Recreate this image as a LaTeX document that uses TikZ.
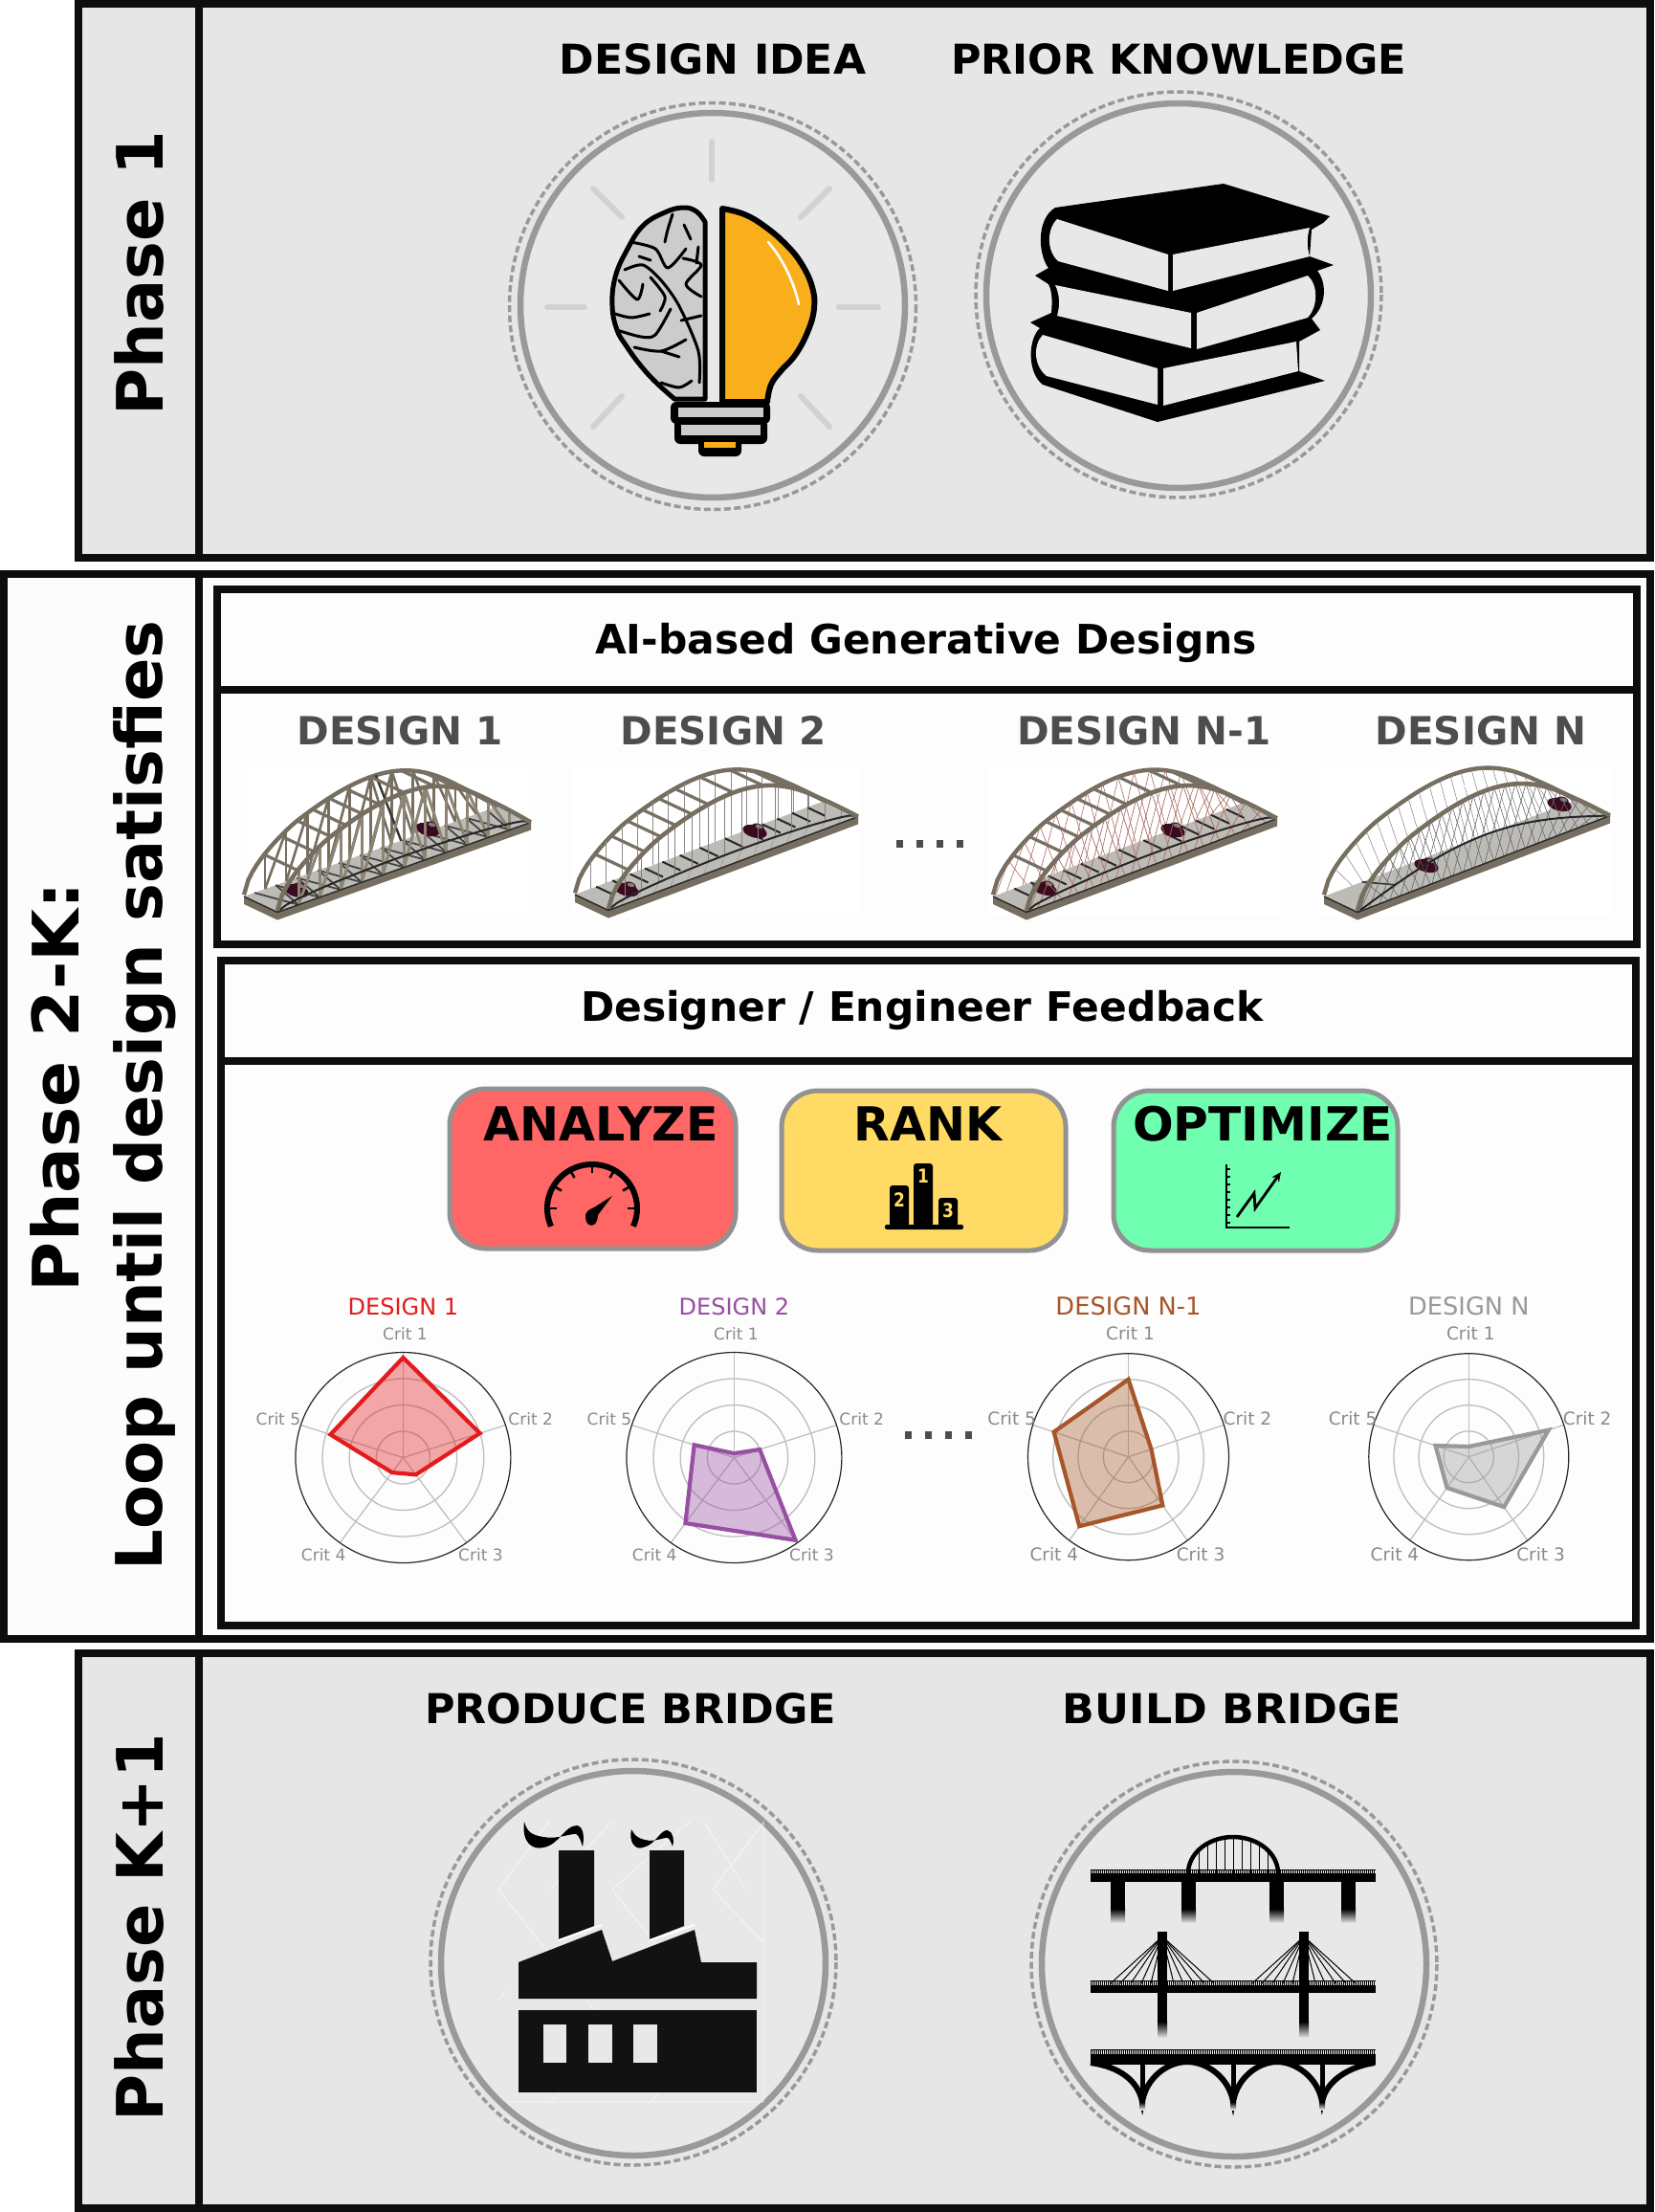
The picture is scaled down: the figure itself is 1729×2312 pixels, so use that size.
\documentclass[tikz,border=0pt]{standalone}
\usepackage{fontspec}
\usepackage{graphicx}
\setmainfont{DejaVu Sans}
\usetikzlibrary{arrows.meta}
\definecolor{panelgray}{HTML}{E6E6E6}
\definecolor{discgray}{HTML}{E8E8E8}
\definecolor{panellight}{HTML}{FCFCFC}
\definecolor{boxlight}{HTML}{FDFDFD}
\definecolor{inkblack}{HTML}{0D0D0D}
\definecolor{ringgray}{HTML}{999999}
\definecolor{raygray}{HTML}{D2D2D2}
\definecolor{bulbamber}{HTML}{F9AE1C}
\definecolor{brainfill}{HTML}{CCCCCC}
\definecolor{steel}{HTML}{766E60}
\definecolor{steellight}{HTML}{8C8474}
\definecolor{deckgray}{HTML}{BDBBB6}
\definecolor{cardark}{HTML}{3A0A1E}
\definecolor{redwire}{HTML}{A86A62}
\definecolor{labelgray}{HTML}{4D4D4D}
\definecolor{critgray}{HTML}{8A8A8A}
\definecolor{gridgray}{HTML}{BDBDBD}
\definecolor{setred}{HTML}{E41A1C}
\definecolor{setpurple}{HTML}{984EA3}
\definecolor{setbrown}{HTML}{A65628}
\definecolor{setgray}{HTML}{999999}
\definecolor{boxred}{HTML}{FF6666}
\definecolor{boxyellow}{HTML}{FFDB66}
\definecolor{boxgreen}{HTML}{70FFB0}
\definecolor{boxedge}{HTML}{929292}
\def\archH{74}
\def\bowA{12}
\def\bowP{0.45}
\def\bdx{261}
\def\bdy{98}
\pgfmathdeclarefunction{archh}{1}{\pgfmathparse{\archH*(max(sin(180*#1),0.001))^(min(1,0.55+0.7*max(#1-0.2,0)))}}
\pgfmathdeclarefunction{bowh}{1}{\pgfmathparse{\bowA*(max(sin(180*#1),0.001))^\bowP}}
% L corner (#1,#2), kind #3, depth rise #4, cars (#5,#6) (#7,#8), run #9
\newcommand{\bridgeart}[9]{%
  \begin{scope}[shift={(#1,#2)}]
    \def\bdx{#9}\def\bdy{#4}%
    \fill[steel] (0,0) -- (35,16.5) -- ({35+\bdx},{16.5-\bdy}) -- ({35+\bdx},{24.5-\bdy}) -- (35,24.5) -- (0,8) -- cycle;
    \fill[deckgray] (0,0) -- (\bdx,-\bdy) -- ({35+\bdx},{16.5-\bdy}) -- (35,16.5) -- cycle;
    \ifnum#3=4
      \draw[line width=1.6pt,black!80] ({0.15*\bdx},{-0.15*\bdy}) -- ({35+0.15*\bdx},{16.5-0.15*\bdy-bowh(0.15)});
    \else\ifnum#3=1
      \foreach \ii in {1,...,11}{\pgfmathsetmacro\uu{\ii/12}\pgfmathsetmacro\ua{\uu-0.042}\pgfmathsetmacro\ub{\uu+0.042}
        \draw[line width=1.7pt,black!75] ({35+\bdx*\uu},{16.5-\bdy*\uu}) -- ({\bdx*\ua},{-\bdy*\ua});
        \draw[line width=1.7pt,black!75] ({35+\bdx*\uu},{16.5-\bdy*\uu}) -- ({\bdx*\ub},{-\bdy*\ub});}
    \else
      \foreach \uu in {0.085,0.15,0.22,0.28,0.35,0.42,0.5,0.6,0.68,0.75,0.81,0.87,0.93}{
        \draw[line width=2pt,black!85] ({\bdx*\uu},{-\bdy*\uu}) -- ({\bdx*\uu+19},{-\bdy*\uu+9});}
    \fi\fi
    % back arch
    \draw[line width=4.4pt,steel] plot[domain=0:1,samples=60] ({\bdx*\x},{-\bdy*\x-archh(\x)});
    % back side members
    \ifnum#3=1
      \foreach \ii in {1,...,11}{\pgfmathsetmacro\uu{\ii/12}\pgfmathsetmacro\ub{\uu+0.083}\pgfmathsetmacro\ua{\uu-0.083}
        \draw[line width=2.6pt,steel] ({\bdx*\uu},{-\bdy*\uu}) -- ({\bdx*\uu},{-\bdy*\uu-archh(\uu)});
        \ifdim\uu pt<0.55pt
          \draw[line width=2.6pt,steel] ({\bdx*\uu},{-\bdy*\uu}) -- ({\bdx*\ub},{-\bdy*\ub-archh(\ub)});
        \else
          \draw[line width=2.6pt,steel] ({\bdx*\uu},{-\bdy*\uu}) -- ({\bdx*\ua},{-\bdy*\ua-archh(\ua)});
        \fi}
      \draw[line width=2.4pt,black!80] ({\bdx*0.52},{-\bdy*0.52-archh(0.52)}) -- ({\bdx*0.62},{-\bdy*0.62});
    \fi
    \ifnum#3=2
      \foreach \ii in {1,...,15}{\pgfmathsetmacro\uu{\ii/16}
        \draw[line width=0.8pt,black!45] ({\bdx*\uu},{-\bdy*\uu-archh(\uu)}) -- ({\bdx*\uu},{-\bdy*\uu});}
    \fi
    \ifnum#3=3
      \foreach \ii in {1,...,15}{\pgfmathsetmacro\uu{\ii/16}\pgfmathsetmacro\ua{max(\uu-0.07,0.01)}\pgfmathsetmacro\ub{min(\uu+0.07,0.99)}
        \draw[line width=0.6pt,redwire] ({\bdx*\uu},{-\bdy*\uu-archh(\uu)}) -- ({\bdx*\ua},{-\bdy*\ua});
        \draw[line width=0.6pt,redwire] ({\bdx*\uu},{-\bdy*\uu-archh(\uu)}) -- ({\bdx*\ub},{-\bdy*\ub});}
    \fi
    \ifnum#3=4
      \foreach \ii in {1,...,23}{\pgfmathsetmacro\uu{\ii/24}\pgfmathsetmacro\ua{max(\uu-0.07,0.01)}\pgfmathsetmacro\ub{min(\uu+0.07,0.99)}
        \draw[line width=0.5pt,black!50] ({\bdx*\uu},{-\bdy*\uu-archh(\uu)}) -- ({\bdx*\ub},{-\bdy*\ub});}
    \fi
    % rungs
    \ifnum#3=4 \else
      \foreach \uu in {0.08,0.145,0.21,0.27,0.335,0.40,0.5,0.62,0.71,0.765,0.81}{
        \draw[line width=3.2pt,steellight!85!black] ({\bdx*\uu},{-\bdy*\uu-archh(\uu)}) -- ({35+\bdx*\uu},{16.5-\bdy*\uu-archh(\uu)});}
    \fi
    % cars
    \foreach \cx/\cy in {#5/#6,#7/#8}{
      \fill[cardark,rotate around={-15:(\cx,\cy)}] (\cx,\cy) ellipse (13pt and 6.5pt);
      \fill[cardark,rotate around={-15:(\cx,\cy)}] (\cx+2,\cy-4) ellipse (7pt and 5pt);
      \fill[black!50,rotate around={-15:(\cx,\cy)}] (\cx+3,\cy-6) ellipse (4pt and 2pt);
    }
    % front side members
    \ifnum#3=1
      \foreach \ii in {1,...,11}{\pgfmathsetmacro\uu{\ii/12}\pgfmathsetmacro\ub{\uu+0.083}\pgfmathsetmacro\ua{\uu-0.083}
        \draw[line width=3pt,steellight] ({35+\bdx*\uu},{16.5-\bdy*\uu}) -- ({35+\bdx*\uu},{16.5-\bdy*\uu-archh(\uu)});
        \ifdim\uu pt<0.55pt
          \draw[line width=3pt,steellight] ({35+\bdx*\uu},{16.5-\bdy*\uu}) -- ({35+\bdx*\ub},{16.5-\bdy*\ub-archh(\ub)});
        \else
          \draw[line width=3pt,steellight] ({35+\bdx*\uu},{16.5-\bdy*\uu}) -- ({35+\bdx*\ua},{16.5-\bdy*\ua-archh(\ua)});
        \fi}
    \fi
    \ifnum#3=2
      \foreach \ii in {1,...,14}{\pgfmathsetmacro\uu{\ii/15}
        \draw[line width=0.8pt,black!50] ({35+\bdx*\uu},{16.5-\bdy*\uu-archh(\uu)}) -- ({35+\bdx*\uu},{16.5-\bdy*\uu-bowh(\uu)});
        \draw[line width=0.6pt,black!40] ({35+\bdx*\uu},{16.5-\bdy*\uu-bowh(\uu)}) -- ({35+\bdx*\uu-5},{16.5-\bdy*\uu+2});}
    \fi
    \ifnum#3=3
      \foreach \ii in {1,...,15}{\pgfmathsetmacro\uu{\ii/16}\pgfmathsetmacro\ua{max(\uu-0.08,0.01)}\pgfmathsetmacro\ub{min(\uu+0.08,0.99)}
        \draw[line width=0.7pt,redwire] ({35+\bdx*\uu},{16.5-\bdy*\uu-archh(\uu)}) -- ({35+\bdx*\ua},{16.5-\bdy*\ua});
        \draw[line width=0.7pt,redwire] ({35+\bdx*\uu},{16.5-\bdy*\uu-archh(\uu)}) -- ({35+\bdx*\ub},{16.5-\bdy*\ub});}
    \fi
    \ifnum#3=4
      \foreach \ii in {1,...,23}{\pgfmathsetmacro\uu{\ii/24}\pgfmathsetmacro\ua{max(\uu-0.08,0.01)}\pgfmathsetmacro\ub{min(\uu+0.08,0.99)}
        \draw[line width=0.6pt,black!60] ({35+\bdx*\uu},{16.5-\bdy*\uu-archh(\uu)}) -- ({35+\bdx*\ua},{16.5-\bdy*\ua});
        \draw[line width=0.6pt,black!60] ({35+\bdx*\uu},{16.5-\bdy*\uu-archh(\uu)}) -- ({35+\bdx*\ub},{16.5-\bdy*\ub});}
    \fi
    % deck curve and edges
    \draw[line width=2pt,black!85] plot[domain=0:1,samples=30] ({35+\bdx*\x},{16.5-\bdy*\x-bowh(\x)});
    \draw[line width=1.4pt,black!65!steel] (0,0) -- (35,16.5) -- ({35+\bdx},{16.5-\bdy});
    % front arch
    \draw[line width=4.6pt,steel] plot[domain=0:1,samples=60] ({35+\bdx*\x},{16.5-\bdy*\x-archh(\x)});
  \end{scope}
}
% radar: cx cy rx ry colour title name, values in \va..\ve
\newcommand{\radarplot}[7]{%
  \foreach \gg in {0.25,0.5,0.75}{\draw[gridgray,line width=1.3pt] (#1,#2) ellipse ({#3*\gg} and {#4*\gg});}
  \foreach \aa in {90,18,-54,-126,162}{\draw[gridgray,line width=1.2pt] (#1,#2) -- ({#1+#3*cos(\aa)},{#2-#4*sin(\aa)});}
  \draw[black!85,line width=1.2pt] (#1,#2) ellipse ({#3} and {#4});
  \filldraw[draw=#5,fill=#5,fill opacity=0.38,line width=4.2pt,line join=miter]
    ({#1+#3*\va*cos(90)},{#2-#4*\va*sin(90)}) --
    ({#1+#3*\vb*cos(18)},{#2-#4*\vb*sin(18)}) --
    ({#1+#3*\vc*cos(-54)},{#2-#4*\vc*sin(-54)}) --
    ({#1+#3*\vd*cos(-126)},{#2-#4*\vd*sin(-126)}) --
    ({#1+#3*\ve*cos(162)},{#2-#4*\ve*sin(162)}) -- cycle;
  \node[crit] (#7c1) at ({#1+2},{#2-129}) {Crit 1};
  \node[crit] (#7c2) at ({#1+#3*1.185},{#2-40}) {Crit 2};
  \node[crit] (#7c3) at ({#1+#3*0.72},{#2+102}) {Crit 3};
  \node[crit] (#7c4) at ({#1-#3*0.74},{#2+102}) {Crit 4};
  \node[crit] (#7c5) at ({#1-#3*1.16},{#2-40}) {Crit 5};
  \node[radartitle,text=#5] (#7t) at ({#1},{#2-158}) {#6};
}
\def\critsize{17}
\def\titlesize{24}
\tikzset{
  panelframe/.style={draw=inkblack,line width=8pt,line join=miter},
  phaselabel/.style={rotate=90,inner sep=0pt,font=\bfseries\fontsize{67}{82}\selectfont,text=black},
  toplabel/.style={inner sep=0pt,font=\bfseries\fontsize{43}{50}\selectfont,text=black},
  headlabel/.style={inner sep=0pt,font=\bfseries\fontsize{42.4}{50}\selectfont,text=black},
  designlabel/.style={inner sep=0pt,font=\bfseries\fontsize{40.5}{46}\selectfont,text=labelgray},
  actlabel/.style={inner sep=0pt,font=\bfseries\fontsize{49}{56}\selectfont,text=black},
  crit/.style={inner sep=0pt,font=\fontsize{\critsize}{20}\selectfont,text=critgray},
  radartitle/.style={inner sep=0pt,font=\fontsize{\titlesize}{28}\selectfont},
  podlabel/.style={inner sep=0pt,text=boxyellow,font=\bfseries\fontsize{20}{22}\selectfont},
  rbox/.style={draw=boxedge,line width=5pt,rounded corners=38pt,inner sep=0pt},
  ringdash/.style={draw=ringgray,line width=3.5pt,dash pattern=on 7pt off 3.5pt},
  ringsolid/.style={draw=ringgray,line width=6.5pt,fill=discgray},
  ray/.style={draw=raygray,line width=6pt,line cap=round},
  wrinkle/.style={draw=black,line width=3pt,line cap=round,line join=round},
  dotbox/.style={fill=labelgray,draw=none},
  cable/.style={draw=black,line width=1pt},
  backdrop/.style={draw=white,line width=1pt,opacity=0.55},
}
\begin{document}
\begin{tikzpicture}[x=1pt,y=-1pt]
\useasboundingbox (0,0) rectangle (1729,2312);
\fill[white] (0,0) rectangle (1729,2312);

%% ---------- PANELS
\draw[panelframe,fill=panelgray] (82,4) rectangle (1725,583);
\draw[panelframe] (208,4) -- (208,583);
\draw[panelframe,fill=panellight] (4,600) rectangle (1725,1713);
\draw[panelframe] (208,600) -- (208,1713);
\draw[panelframe,fill=boxlight] (226.5,616) rectangle (1710.5,987);
\draw[panelframe] (226.5,721) -- (1710.5,721);
\draw[panelframe,fill=boxlight] (230.5,1004) rectangle (1710,1699);
\draw[panelframe] (230.5,1109) -- (1710,1109);
\draw[panelframe,fill=panelgray] (82,1728) rectangle (1725,2308);
\draw[panelframe] (208,1728) -- (208,2308);

%% ---------- PHASE LABELS
\node[phaselabel,anchor=base] (phaseone) at (170,286) {Phase 1};
\node[phaselabel,anchor=base] (phasetwoa) at (82,1136) {\scalebox{1.06}[1]{Phase 2-K:}};
\node[phaselabel,anchor=base] (phasetwob) at (169,1145) {Loop until design satisfies};
\node[phaselabel,anchor=base] (phasek) at (170,2015) {Phase K+1};

%% ---------- PHASE 1
\node[toplabel] (idea) at (745,62) {\scalebox{1.025}[1]{DESIGN IDEA}};
\node[toplabel] (prior) at (1232,62) {PRIOR KNOWLEDGE};
\draw[ringdash] (745,320) circle (212.5);
\draw[ringsolid] (745,319) circle (201);
\draw[ringdash] (1232,308) circle (212);
\draw[ringsolid] (1232,309) circle (201);

% rays
\draw[ray] (744,148) -- (744,188);
\draw[ray] (572,321) -- (611,321);
\draw[ray] (877,321) -- (918,321);
\draw[ray] (620,197) -- (650,227);
\draw[ray] (867,197) -- (837,227);
\draw[ray] (650,414) -- (620,446);
\draw[ray] (837,414) -- (867,446);
% bulb half
\draw[fill=bulbamber,draw=black,line width=6pt,line join=round]
  (755,420) -- (755,218) -- plot[smooth,tension=0.7] coordinates {(755,218) (778,224) (800,237) (822,256) (838,276) (849,300) (851,322) (845,345) (832,370) (816,388) (806,402) (802,420)} -- cycle;
\draw[white,line width=2.6pt,line cap=round] (803,253) .. controls (818,270) and (830,295) .. (835,318);
% brain half
\draw[fill=brainfill,draw=black,line width=5pt,line join=round]
  (737,417) -- (737,232) -- plot[smooth,tension=0.7] coordinates {(737,232) (728,221) (714,217) (695,222) (672,236) (655,262) (643,290) (640,320) (645,345) (655,362) (668,380) (684,398) (705,417)} -- cycle;
\draw[wrinkle] plot[smooth] coordinates {(703,224) (698,240) (695,253)};
\draw[wrinkle] plot[smooth] coordinates {(659,253) (685,260) (698,280) (717,260)};
\draw[wrinkle] plot[smooth] coordinates {(653,282) (672,277) (691,293) (710,320) (730,367) (731,400)};
\draw[wrinkle] plot[smooth] coordinates {(647,293) (666,313) (672,297)};
\draw[wrinkle] plot[smooth] coordinates {(643,328) (660,332) (679,328)};
\draw[wrinkle] plot[smooth] coordinates {(645,345) (670,352) (685,350) (701,323)};
\draw[wrinkle] plot[smooth] coordinates {(663,363) (691,367) (717,355)};
\draw[wrinkle] (691,367) -- (710,373);
\draw[wrinkle] plot[smooth] coordinates {(691,400) (710,405) (723,398)};
\draw[wrinkle] plot[smooth] coordinates {(714,270) (733,277) (717,297) (733,310)};
\draw[wrinkle] plot[smooth] coordinates {(730,258) (728,275)};
\draw[wrinkle] plot[smooth] coordinates {(680,290) (695,310) (690,325)};
\draw[wrinkle] plot[smooth] coordinates {(715,235) (722,250)};
\draw[wrinkle] plot[smooth] coordinates {(668,268) (680,272)};
\draw[wrinkle] plot[smooth] coordinates {(712,335) (733,330)};
% lamp base
\fill[black,rounded corners=6pt] (701,420) rectangle (805,443);
\fill[black,rounded corners=6pt] (705,438) rectangle (802,464);
\fill[black,rounded corners=6pt] (730,458) rectangle (775,477);
\fill[brainfill] (709,426) rectangle (798,436);
\fill[brainfill] (712,444) rectangle (795,455);
\fill[bulbamber] (736,462) rectangle (769,468);

% books
\fill[black,line join=round] (1103,217) -- (1279,192) -- (1390,226) -- (1383,233) -- (1371,240) -- (1369,268)
  -- (1394,277) -- (1377,283) .. controls (1387,295) and (1387,320) .. (1371,333) -- (1380,345) -- (1358,357)
  -- (1358,388) -- (1385,398) -- (1210,441) -- (1090,402) .. controls (1074,390) and (1074,355) .. (1087,343)
  -- (1077,337) -- (1099,327) .. controls (1100,315) and (1100,305) .. (1096,297) -- (1082,288) -- (1096,280)
  .. controls (1086,268) and (1082,230) .. (1103,217) -- cycle;
\fill[discgray] (1105,229) -- (1221,266) -- (1221,304) -- (1106,273) .. controls (1094,262) and (1094,240) .. (1105,229) -- cycle;
\fill[discgray] (1226,266) -- (1369,238) .. controls (1366,248) and (1366,258) .. (1369,268) -- (1226,304) -- cycle;
\fill[discgray] (1103,298) -- (1245,327) -- (1245,364) -- (1105,330) .. controls (1108,320) and (1108,308) .. (1103,298) -- cycle;
\fill[discgray] (1251,327) -- (1367,288) .. controls (1378,298) and (1378,320) .. (1367,332) -- (1251,365) -- cycle;
\fill[discgray] (1090,350) -- (1210,385) -- (1210,423) -- (1094,393) .. controls (1080,382) and (1080,360) .. (1090,350) -- cycle;
\fill[discgray] (1216,385) -- (1355,357) -- (1357,388) -- (1216,424) -- cycle;

%% ---------- PHASE 2 : GENERATIVE DESIGNS
\node[headlabel] (aihead) at (968,672) {AI-based Generative Designs};
\node[designlabel] (d1) at (418,764) {DESIGN 1};
\node[designlabel] (d2) at (756,764) {DESIGN 2};
\node[designlabel] (dn1) at (1196,764) {DESIGN N-1};
\node[designlabel] (dn) at (1548,764) {DESIGN N};
\fill[white] (253,802) rectangle (558,959);
\fill[white] (597,800) rectangle (900,959);
\fill[white] (1032,800) rectangle (1338,958);
\fill[white] (1380,800) rectangle (1685,958);
\def\archH{78}
\bridgeart{255}{937}{1}{94}{192}{-70}{55}{-6}{265}
\def\archH{74}
\bridgeart{601}{935}{2}{98}{188}{-66}{54}{-5}{261}
\def\archH{76}
\bridgeart{1038}{937}{3}{98}{188}{-69}{54}{-8}{262}
\def\archH{76}\def\bowA{30}\def\bowP{1}
\bridgeart{1384}{937}{4}{101}{246}{-96}{107}{-32}{264}
\draw[white,line width=4pt] (1428,886) -- (1436,893) (1531,820) -- (1538,824) (1626,811) -- (1636,817);
\foreach \dd in {940,961,982,1003}{\fill[dotbox] (\dd-3.5,878) rectangle (\dd+3.5,886);}

%% ---------- PHASE 2 : FEEDBACK
\node[headlabel] (fbhead) at (964,1056) {Designer / Engineer Feedback};
\node[rbox,fill=boxred,minimum width=299pt,minimum height=167pt] (analyzebox) at (619.5,1221.5) {};
\node[rbox,fill=boxyellow,minimum width=297pt,minimum height=167pt] (rankbox) at (965.5,1223.5) {};
\node[rbox,fill=boxgreen,minimum width=297pt,minimum height=167pt] (optbox) at (1312.5,1223.5) {};
\node[actlabel] (analyze) at (628,1175) {ANALYZE};
\node[actlabel] (rank) at (970,1175) {RANK};
\node[actlabel] (optimize) at (1320,1175) {\scalebox{1.025}[1]{OPTIMIZE}};
% gauge
\draw[black,line width=6pt] plot[domain=-24:204,samples=50] ({619+47*cos(\x)},{1263-46*sin(\x)});
\foreach \aa in {0,30,60,90,120,150,180}{\draw[black,line width=2.6pt] ({619+46*cos(\aa)},{1263-46*sin(\aa)}) -- ({619+37*cos(\aa)},{1263-37*sin(\aa)});}
\fill[black] (640,1250) -- (625,1270) .. controls (625,1284) and (612,1284) .. (612,1272) .. controls (612,1265) and (617,1264) .. (621,1262) -- cycle;
% podium
\fill[black,rounded corners=2pt] (925,1280) rectangle (1007,1285);
\fill[black,rounded corners=3pt] (930,1239) rectangle (950,1282);
\fill[black,rounded corners=3pt] (955,1216) rectangle (975,1282);
\fill[black,rounded corners=3pt] (981,1252) rectangle (1001,1282);
\node[podlabel] (pod2) at (940,1254) {\scalebox{0.85}[1]{2}};
\node[podlabel] (pod1) at (965,1229) {\scalebox{0.85}[1]{1}};
\node[podlabel] (pod3) at (991,1265) {\scalebox{0.85}[1]{3}};
% growth chart
\draw[black,line width=2.8pt] (1282,1217) -- (1282,1283) -- (1348,1283);
\foreach \yy in {1222,1230,1238,1246,1254,1262,1270,1278}{\draw[black,line width=1.6pt] (1282,\yy) -- (1286,\yy);}
\draw[black,line width=2.8pt,-{Stealth[length=10pt,width=9pt]}] (1293,1272) -- (1311,1247) -- (1312,1263) -- (1339,1225);

% radar charts
\def\va{0.95}\def\vb{0.75}\def\vc{0.2}\def\vd{0.175}\def\ve{0.71}
\radarplot{421.4}{1523.5}{112.5}{110}{setred}{DESIGN 1}{ra}
\def\va{0.04}\def\vb{0.25}\def\vc{0.97}\def\vd{0.77}\def\ve{0.39}
\radarplot{767.4}{1523.5}{112.5}{110}{setpurple}{DESIGN 2}{rb}
\def\critsize{18.5}\def\titlesize{25.7}
\def\va{0.75}\def\vb{0.24}\def\vc{0.58}\def\vd{0.83}\def\ve{0.78}
\radarplot{1179.5}{1522.7}{105}{108}{setbrown}{DESIGN N-1}{rc}
\def\va{0.1}\def\vb{0.84}\def\vc{0.6}\def\vd{0.37}\def\ve{0.35}
\radarplot{1535.3}{1522.7}{104.5}{108}{setgray}{DESIGN N}{rd}
\foreach \dd in {949,970,991,1012}{\fill[dotbox] (\dd-3.5,1496) rectangle (\dd+3.5,1504);}

%% ---------- PHASE K+1
\node[toplabel] (produce) at (659,1786) {PRODUCE BRIDGE};
\node[toplabel] (build) at (1288,1786) {\scalebox{1.03}[1]{BUILD BRIDGE}};
\draw[ringdash] (662,2051) circle (212);
\draw[ringsolid] (662,2052) circle (201);
\draw[ringdash] (1290,2053) circle (212);
\draw[ringsolid] (1290,2053) circle (201);

% factory backdrop lines
\draw[backdrop] (521,1975) -- (575,1903) (521,1975) -- (620,2100) (530,2080) -- (521,2090)
  (575,1975) -- (640,1903) (640,1975) -- (722,1903) (640,1975) -- (700,2050)
  (745,1975) -- (798,1905) (745,1975) -- (798,2030) (735,1903) -- (780,1975)
  (530,2197) -- (798,2197) (798,1903) -- (798,2197) (585,2187) -- (575,2197) (690,2187) -- (680,2197);
% factory
\fill[black!93] (584,1934) -- (621,1934) -- (621,2013) -- (584,2027) -- cycle;
\fill[black!93] (679,1934) -- (715,1934) -- (715,2013) -- (679,2027) -- cycle;
\fill[black!93] (542,2051) -- (629,2017) -- (640,2050) -- (726,2017) -- (733,2051) -- (791,2051) -- (791,2089) -- (542,2089) -- cycle;
\draw[white,line width=2pt] (584,2028) -- (629,2012) (679,2028) -- (726,2012);
\fill[black!93] (542,2101) rectangle (791,2187);
\fill[discgray] (568,2116) rectangle (592,2156);
\fill[discgray] (615,2116) rectangle (640,2156);
\fill[discgray] (662,2116) rectangle (687,2156);
% smoke
\fill[black] (548,1904) .. controls (545,1925) and (556,1934) .. (568,1931)
  .. controls (585,1928) and (590,1908) .. (603,1908) .. controls (610,1909) and (611,1920) .. (609,1930)
  .. controls (606,1921) and (604,1915) .. (599,1917) .. controls (588,1919) and (580,1922) .. (568,1920)
  .. controls (556,1918) and (551,1915) .. (548,1904) -- cycle;
\fill[black] (660,1912) .. controls (657,1925) and (664,1934) .. (672,1931)
  .. controls (686,1928) and (690,1912) .. (698,1913) .. controls (704,1915) and (705,1924) .. (703,1930)
  .. controls (701,1924) and (699,1919) .. (695,1921) .. controls (688,1923) and (680,1925) .. (674,1923)
  .. controls (666,1921) and (663,1918) .. (660,1912) -- cycle;

% bridge icons : top
\fill[black] (1140,1958) rectangle (1437.5,1967);
\draw[black,line width=4pt,dash pattern=on 1pt off 1pt] (1140,1956) -- (1437.5,1956);
\draw[black,line width=0.8pt] (1140,1954) -- (1437.5,1954);
\foreach \px in {1161,1235,1327,1402}{
  \fill[black] (\px,1967) rectangle (\px+15,1995);
  \shade[top color=black,bottom color=discgray] (\px,1995) rectangle (\px+15,2010);
}
\draw[black,line width=4.5pt] plot[domain=180:0,samples=40] ({1289+47*cos(\x)},{1958-38*sin(\x)});
\foreach \hh in {-36,-27,-18,-9,0,9,18,27,36}{\draw[cable] ({1289+\hh},1958) -- ({1289+\hh},{1958-38*sqrt(1-(\hh/47)^2)});}
% bridge icons : middle
\fill[black] (1140,2075) rectangle (1437.5,2083);
\draw[black,line width=4pt,dash pattern=on 1pt off 1pt] (1140,2072.5) -- (1437.5,2072.5);
\draw[black,line width=0.8pt] (1140,2070) -- (1437.5,2070);
\foreach \tx in {1215,1363}{
  \fill[black] (\tx-5,2019) rectangle (\tx+5,2113);
  \shade[top color=black,bottom color=discgray] (\tx-5,2113) rectangle (\tx+5,2130);
  \foreach \kk in {-54,-44,-33,-22,-12,12,22,33,44,54}{\draw[cable] (\tx,2024) -- (\tx+\kk,2073);}
}
% bridge icons : bottom
\fill[black] (1140,2147) rectangle (1437.5,2158);
\draw[black,line width=4pt,dash pattern=on 1pt off 1pt] (1140,2145) -- (1437.5,2145);
\draw[black,line width=0.8pt] (1140,2142.5) -- (1437.5,2142.5);
\draw[black,line width=6pt] (1140,2156) .. controls (1170,2160) and (1190,2175) .. (1194,2197)
  .. controls (1198,2172) and (1220,2155) .. (1241,2155) .. controls (1262,2155) and (1285,2172) .. (1289,2197)
  .. controls (1293,2172) and (1315,2155) .. (1335,2155) .. controls (1355,2155) and (1378,2172) .. (1382,2197)
  .. controls (1386,2175) and (1410,2160) .. (1437,2156);
\foreach \px in {1194,1289,1382}{
  \fill[black] (\px-2.5,2158) rectangle (\px+2.5,2197);
  \shade[top color=black,bottom color=discgray] (\px-3,2197) rectangle (\px+3,2205);
}
\end{tikzpicture}
\end{document}
